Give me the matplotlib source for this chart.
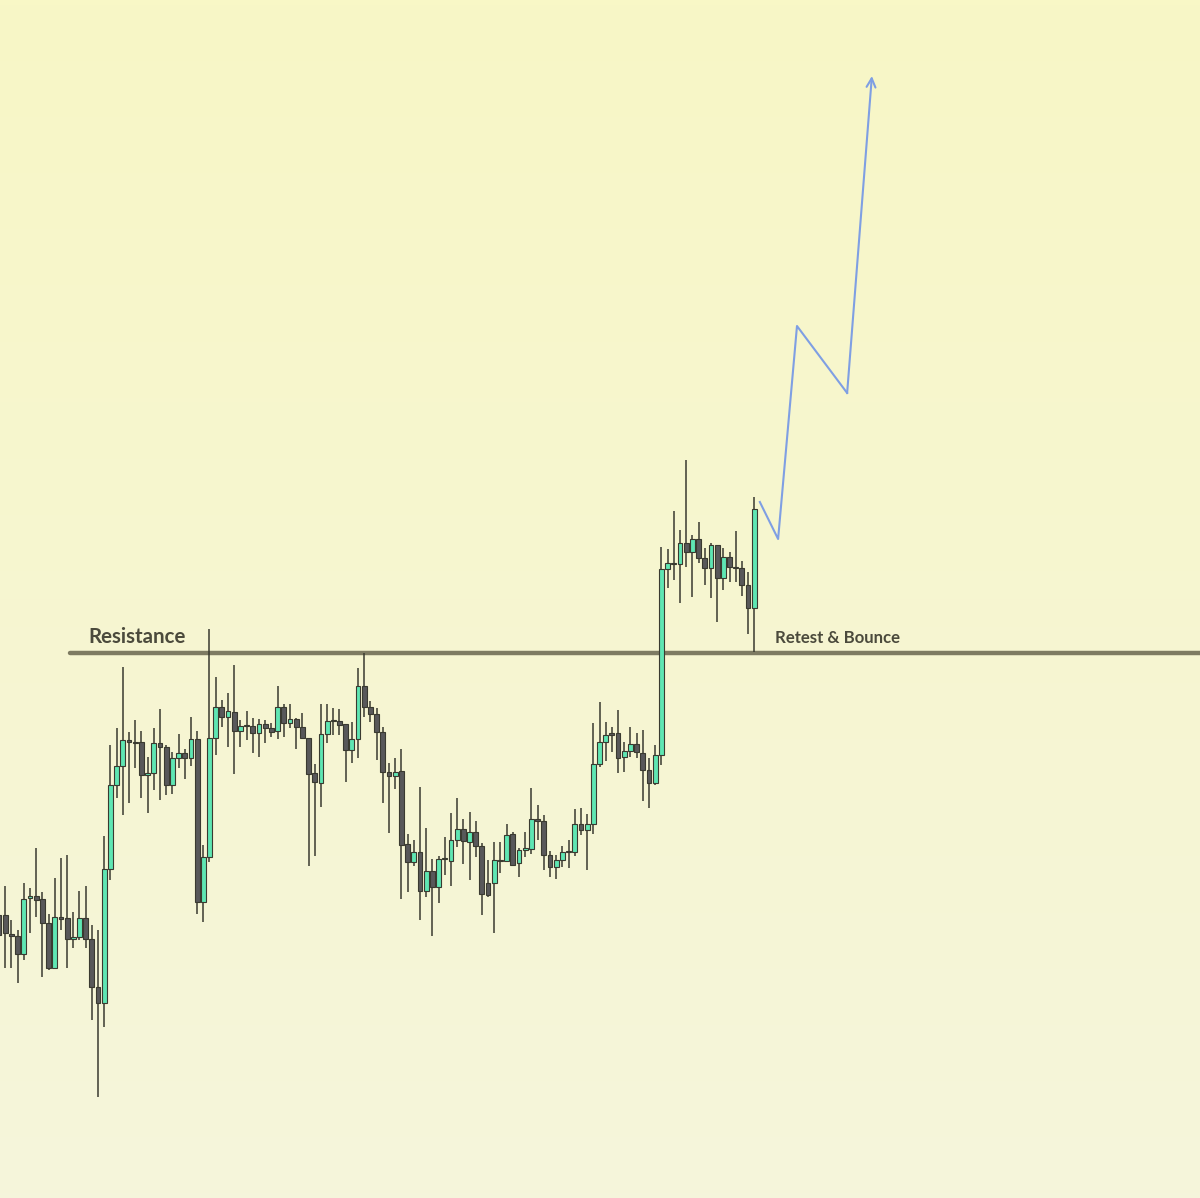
import numpy as np
import matplotlib.pyplot as plt
from matplotlib.colors import LinearSegmentedColormap

# candle data: open, high, low, close (price units)
opens = [283, 283, 264, 262, 244, 300, 302, 299, 275, 230,
         281, 280, 259, 261, 280, 259, 211, 195, 329, 413,
         432, 458, 456, 456, 423, 425, 455, 451, 413, 440,
         445, 440, 459, 296, 341, 460, 491, 481, 486, 467,
         472, 472, 465, 474, 470, 467, 491, 475, 479, 471,
         460, 425, 415, 464, 477, 477, 474, 448, 459, 512,
         491, 484, 466, 426, 422, 427, 354, 336, 346, 307,
         327, 311, 339, 337, 358, 369, 356, 366, 352, 315,
         315, 337, 337, 364, 335, 348, 349, 379, 377, 343,
         331, 338, 346, 346, 374, 368, 374, 434, 456, 465,
         465, 441, 447, 454, 445, 428, 415, 443, 629, 634,
         634, 655, 646, 659, 640, 630, 653, 620, 641, 630,
         630, 613, 590]
highs = [311, 312, 278, 268, 315, 310, 350, 306, 284, 320,
         340, 343, 286, 307, 312, 273, 268, 362, 453, 470,
         531, 466, 478, 467, 441, 470, 489, 453, 446, 464,
         449, 481, 467, 353, 569, 521, 498, 505, 533, 478,
         487, 480, 479, 478, 475, 512, 494, 494, 480, 485,
         460, 434, 494, 494, 490, 489, 474, 476, 530, 545,
         497, 490, 471, 435, 440, 449, 364, 358, 411, 370,
         339, 342, 361, 385, 400, 379, 386, 377, 355, 338,
         356, 356, 374, 366, 350, 366, 410, 393, 383, 347,
         343, 352, 358, 389, 390, 384, 475, 496, 476, 471,
         488, 456, 471, 465, 468, 440, 453, 651, 649, 687,
         668, 738, 663, 676, 650, 655, 653, 650, 646, 667,
         637, 626, 701]
lows = [230, 230, 230, 215, 238, 265, 281, 221, 228, 230,
        268, 230, 250, 258, 250, 178, 101, 171, 318, 400,
        383, 395, 430, 400, 385, 408, 398, 403, 404, 430,
        419, 432, 284, 276, 336, 443, 471, 451, 424, 451,
        458, 445, 441, 455, 461, 459, 461, 470, 449, 459,
        332, 342, 391, 455, 463, 463, 416, 435, 440, 481,
        476, 438, 395, 365, 409, 299, 306, 332, 278, 301,
        262, 295, 323, 312, 351, 334, 318, 341, 283, 301,
        265, 325, 336, 332, 321, 341, 344, 358, 328, 321,
        319, 331, 330, 342, 363, 328, 364, 431, 437, 446,
        425, 426, 441, 440, 397, 390, 413, 433, 610, 618,
        595, 631, 601, 635, 613, 600, 576, 608, 616, 616,
        602, 564, 546]
closes = [263, 265, 262, 244, 299, 302, 298, 275, 230, 281,
          279, 259, 261, 280, 259, 211, 195, 329, 413, 432,
          458, 456, 455, 423, 425, 455, 451, 413, 440, 445,
          440, 459, 296, 341, 460, 491, 481, 487, 467, 472,
          473, 465, 474, 470, 466, 491, 475, 479, 471, 460,
          424, 416, 464, 477, 478, 473, 448, 459, 512, 491,
          484, 466, 426, 422, 426, 353, 336, 346, 307, 327,
          311, 339, 339, 358, 369, 357, 366, 352, 304, 303,
          338, 338, 363, 333, 348, 350, 379, 377, 343, 331,
          338, 346, 347, 374, 368, 374, 434, 456, 463, 463,
          440, 447, 454, 446, 428, 415, 443, 629, 635, 635,
          655, 646, 659, 640, 630, 653, 620, 641, 631, 630,
          613, 590, 689]

resistance = 545
# projected path after the retest
path_x = [122.9, 125.85, 128.9, 137.0, 141.0]
path_y = [696, 659, 872, 805, 1122]

up_col = '#5fe6b3'
down_col = '#58585a'
edge_col = '#3a3a30'
path_col = '#7f9fe3'

fig = plt.figure(figsize=(12, 11.98), dpi=100)
bg = fig.add_axes([0, 0, 1, 1])
grad = np.linspace(0, 1, 256).reshape(-1, 1)
cmap = LinearSegmentedColormap.from_list('bg', ['#f8f7c6', '#f5f5db'])
bg.imshow(grad, aspect='auto', cmap=cmap, extent=[0, 1, 0, 1])
bg.set_axis_off()

ax = fig.add_axes([0, 0, 1, 1])
ax.patch.set_alpha(0)
ax.set_axis_off()
ax.set_xlim(0.16, 194.0)
ax.set_ylim(0, 1198)

idx = np.arange(len(opens))
o = np.array(opens, float)
c = np.array(closes, float)
up = c >= o

ax.vlines(idx, lows, highs, color=edge_col, lw=1.1, zorder=2)
bottom = np.minimum(o, c)
height = np.maximum(np.abs(c - o), 1.5)
colors = np.where(up, up_col, down_col)
ax.bar(idx, height, bottom=bottom, width=0.78, color=colors,
       edgecolor=edge_col, linewidth=0.8, zorder=3)

ax.plot([11.5, 194.0], [resistance, resistance], color='#7e7b62', lw=3.2,
        solid_capstyle='round', zorder=1)

ax.text(14.5, 555, 'Resistance', fontsize=14.8, fontweight='bold', family='Lato',
        color='#4b4a3c', va='baseline')
ax.text(125.4, 555, 'Retest & Bounce', fontsize=12.1, fontweight='bold', family='Lato',
        color='#4b4a3c', va='baseline')

ax.plot(path_x[:-1], path_y[:-1], color=path_col, lw=1.5, zorder=4)
ax.annotate('', xy=(path_x[-1], path_y[-1]), xytext=(path_x[-2], path_y[-2]),
            arrowprops=dict(arrowstyle='->', color=path_col, lw=1.5,
                            mutation_scale=16, shrinkA=0, shrinkB=0))

fig.savefig('out.png', dpi=100)
